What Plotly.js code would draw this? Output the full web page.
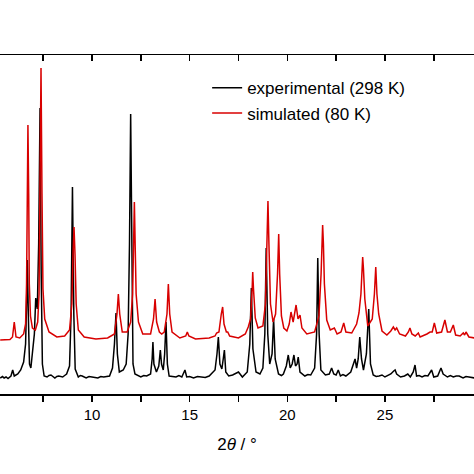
<!DOCTYPE html>
<html>
<head>
<meta charset="utf-8">
<script src="https://cdn.plot.ly/plotly-3.0.1.min.js"></script>
<style>html,body{margin:0;padding:0;background:#fff;}#chart{width:474px;height:474px;}</style>
</head>
<body>
<div id="chart"></div>
<script>
// 2θ (degrees) and intensity (arbitrary units)
var simTheta = [5.3,5.8,5.93,6.02,6.11,6.3,6.5,6.6,6.65,6.68,6.72,6.76,6.79,6.85,6.95,7.1,7.22,7.29,7.34,7.39,7.44,7.49,7.58,7.8,8.2,8.6,8.85,8.97,9.03,9.08,9.13,9.19,9.3,9.6,10.2,10.8,11.15,11.28,11.35,11.42,11.55,11.8,11.98,12.08,12.13,12.17,12.21,12.26,12.38,12.6,13.0,13.15,13.23,13.31,13.45,13.57,13.7,13.84,13.91,13.98,14.1,14.5,14.8,14.88,14.96,15.3,16.0,16.3,16.38,16.5,16.62,16.69,16.76,16.88,16.95,17.05,17.5,17.85,18.0,18.12,18.2,18.23,18.27,18.36,18.5,18.75,18.88,18.96,19.01,19.06,19.14,19.27,19.4,19.5,19.56,19.61,19.7,19.82,19.98,20.1,20.19,20.3,20.45,20.55,20.65,20.75,21.0,21.4,21.62,21.73,21.78,21.81,21.85,21.9,22.02,22.2,22.41,22.55,22.75,22.89,23.0,23.3,23.55,23.67,23.77,23.83,23.86,23.9,23.97,24.12,24.35,24.46,24.53,24.59,24.68,24.85,25.1,25.3,25.43,25.52,25.6,25.75,26.05,26.2,26.28,26.38,26.55,26.71,26.8,27.15,27.31,27.42,27.53,27.65,27.9,28.07,28.2,28.35,28.5,28.62,28.85,29.01,29.08,29.15,29.3,29.6];
var simInt = [54,54.5,57,72,57,56,60,70,110,200,269,200,110,78,66,64,72,100,200,326,200,105,75,62,57,58,64,90,140,167,140,90,64,57,55,56,60,80,100,80,62,62,72,100,150,192,150,100,72,60,60,75,95,72,62,60,62,80,110,80,62,56,58,62,58,55,56,58,61,62,80,87,70,62,62,58,56,60,67,75,105,122,105,76,66,68,90,150,193,150,90,72,80,120,160,120,78,66,63,70,82,72,89,75,79,66,60,62,78,120,150,169,150,110,74,64,66,60,62,71,62,61,70,81,100,125,137,125,95,68,75,100,127,100,80,63,59,63,67,64,66,60,58,62,66,60,58,61,57,60,62,62,71,61,62,74,62,62,69,59,58,61,59,62,57,56];

var expTheta = [5.3,5.42,5.5,5.6,5.7,5.85,5.94,6.02,6.2,6.35,6.5,6.6,6.65,6.69,6.74,6.8,6.87,6.95,7.05,7.12,7.2,7.27,7.34,7.4,7.46,7.55,7.7,7.8,7.9,8.1,8.2,8.3,8.5,8.6,8.7,8.85,8.93,9.0,9.07,9.14,9.3,9.4,9.5,9.7,9.85,10.0,10.3,10.45,10.6,10.9,11.05,11.15,11.23,11.3,11.4,11.6,11.75,11.85,11.92,11.98,12.04,12.1,12.2,12.35,12.5,12.65,12.8,13.0,13.08,13.12,13.17,13.3,13.42,13.5,13.56,13.65,13.72,13.79,13.86,13.95,14.1,14.3,14.45,14.6,14.76,14.85,15.0,15.2,15.4,15.6,15.8,16.0,16.3,16.4,16.47,16.55,16.65,16.72,16.78,16.85,17.0,17.2,17.5,17.7,17.95,18.08,18.16,18.24,18.4,18.6,18.75,18.85,18.92,19.0,19.1,19.22,19.3,19.38,19.55,19.7,19.8,19.95,20.05,20.15,20.25,20.34,20.42,20.5,20.56,20.65,20.9,21.05,21.2,21.4,21.5,21.56,21.63,21.72,21.95,22.15,22.27,22.38,22.5,22.61,22.72,22.85,23.0,23.25,23.38,23.47,23.55,23.63,23.71,23.8,23.9,24.05,24.17,24.26,24.4,24.55,24.7,24.85,25.0,25.15,25.3,25.45,25.52,25.6,25.8,26.0,26.17,26.3,26.45,26.54,26.62,26.75,26.9,27.05,27.2,27.39,27.5,27.7,27.87,27.98,28.2,28.35,28.5,28.65,28.8,29.0,29.15,29.3,29.45,29.6];
var expInt = [16,17.5,16,17,15.5,18,24,18,20,24,32,50,90,134,80,30,26,40,60,96,85,150,286,120,30,18,17,18.5,19,16,17.5,18,17,18.5,20,28,80,207,80,25,17,18.5,18,16,17.5,17,16,17.5,17,18,26,50,81,40,22,24,30,60,150,280,150,30,20,18.5,17,18.5,18,20,35,52,30,22,28,44,30,24,40,72,30,18,17.5,17,18.5,17,24,17,17.5,16,17.5,17,16.5,18,24,40,57,30,25,35,44,22,18,19,22,17,22,50,106,45,22,20,26,60,146,60,30,40,75,35,20,18.5,20,28,39,26,30,39,28,30,37,22,18,19.5,19,26,60,136,60,24,19,20,26,20,19,24,18,19.5,18,22,30,35,26,35,57,35,24,40,85,30,19,17.5,18,19,17,18.5,20,23,24,20,17,18,20,17,22,29,18,18.5,17,18.5,18,24,17,18,26,20,17,18.5,17,18,18,16,17.5,17,16.5,16];

var tickVals = [7.5,10,12.5,15,17.5,20,22.5,25,27.5];
var tickText = ['','10','','15','','20','','25',''];
var seriesNames = ['experimental (298 K)','simulated (80 K)'];

var traces = [
  {x: expTheta, y: expInt, name: seriesNames[0], mode: 'lines', line: {color: '#000000', width: 1.5}, hoverinfo: 'skip'},
  {x: simTheta, y: simInt, name: seriesNames[1], mode: 'lines', line: {color: '#d80000', width: 1.5}, hoverinfo: 'skip'},
  {x: [10], y: [0], xaxis: 'x2', mode: 'lines', showlegend: false, hoverinfo: 'skip'}
];

var font = 'Liberation Sans, Arial, Helvetica, sans-serif';
var layout = {
  width: 474, height: 474,
  margin: {l: 0, r: 0, t: 55, b: 80},
  paper_bgcolor: '#ffffff', plot_bgcolor: '#ffffff',
  font: {family: font, color: '#000', size: 14},
  showlegend: true,
  legend: {x: 0.437, xanchor: 'left', y: 0.955, yanchor: 'top', bgcolor: 'rgba(0,0,0,0)', font: {size: 17, family: font}, tracegroupgap: 0},
  xaxis: {
    range: [5.29, 29.56], showgrid: false, zeroline: false,
    showline: true, linecolor: '#000', linewidth: 1.5,
    ticks: 'outside', ticklen: 6, tickwidth: 1.5, tickcolor: '#000',
    tickmode: 'array', tickvals: tickVals, ticktext: tickText,
    tickfont: {size: 15, family: font},
    title: {text: '2<i>θ</i> / °', font: {size: 17, family: font}, standoff: 16}
  },
  xaxis2: {
    overlaying: 'x', side: 'top', range: [5.29, 29.56], showgrid: false, zeroline: false,
    showline: true, linecolor: '#000', linewidth: 1.5,
    ticks: 'inside', ticklen: 6, tickwidth: 1.5, tickcolor: '#000',
    tickmode: 'array', tickvals: tickVals, showticklabels: false
  },
  yaxis: {range: [0, 339], showgrid: false, zeroline: false, showline: false, showticklabels: false, ticks: ''}
};

Plotly.newPlot('chart', traces, layout, {staticPlot: true, displayModeBar: false});
</script>
</body>
</html>
